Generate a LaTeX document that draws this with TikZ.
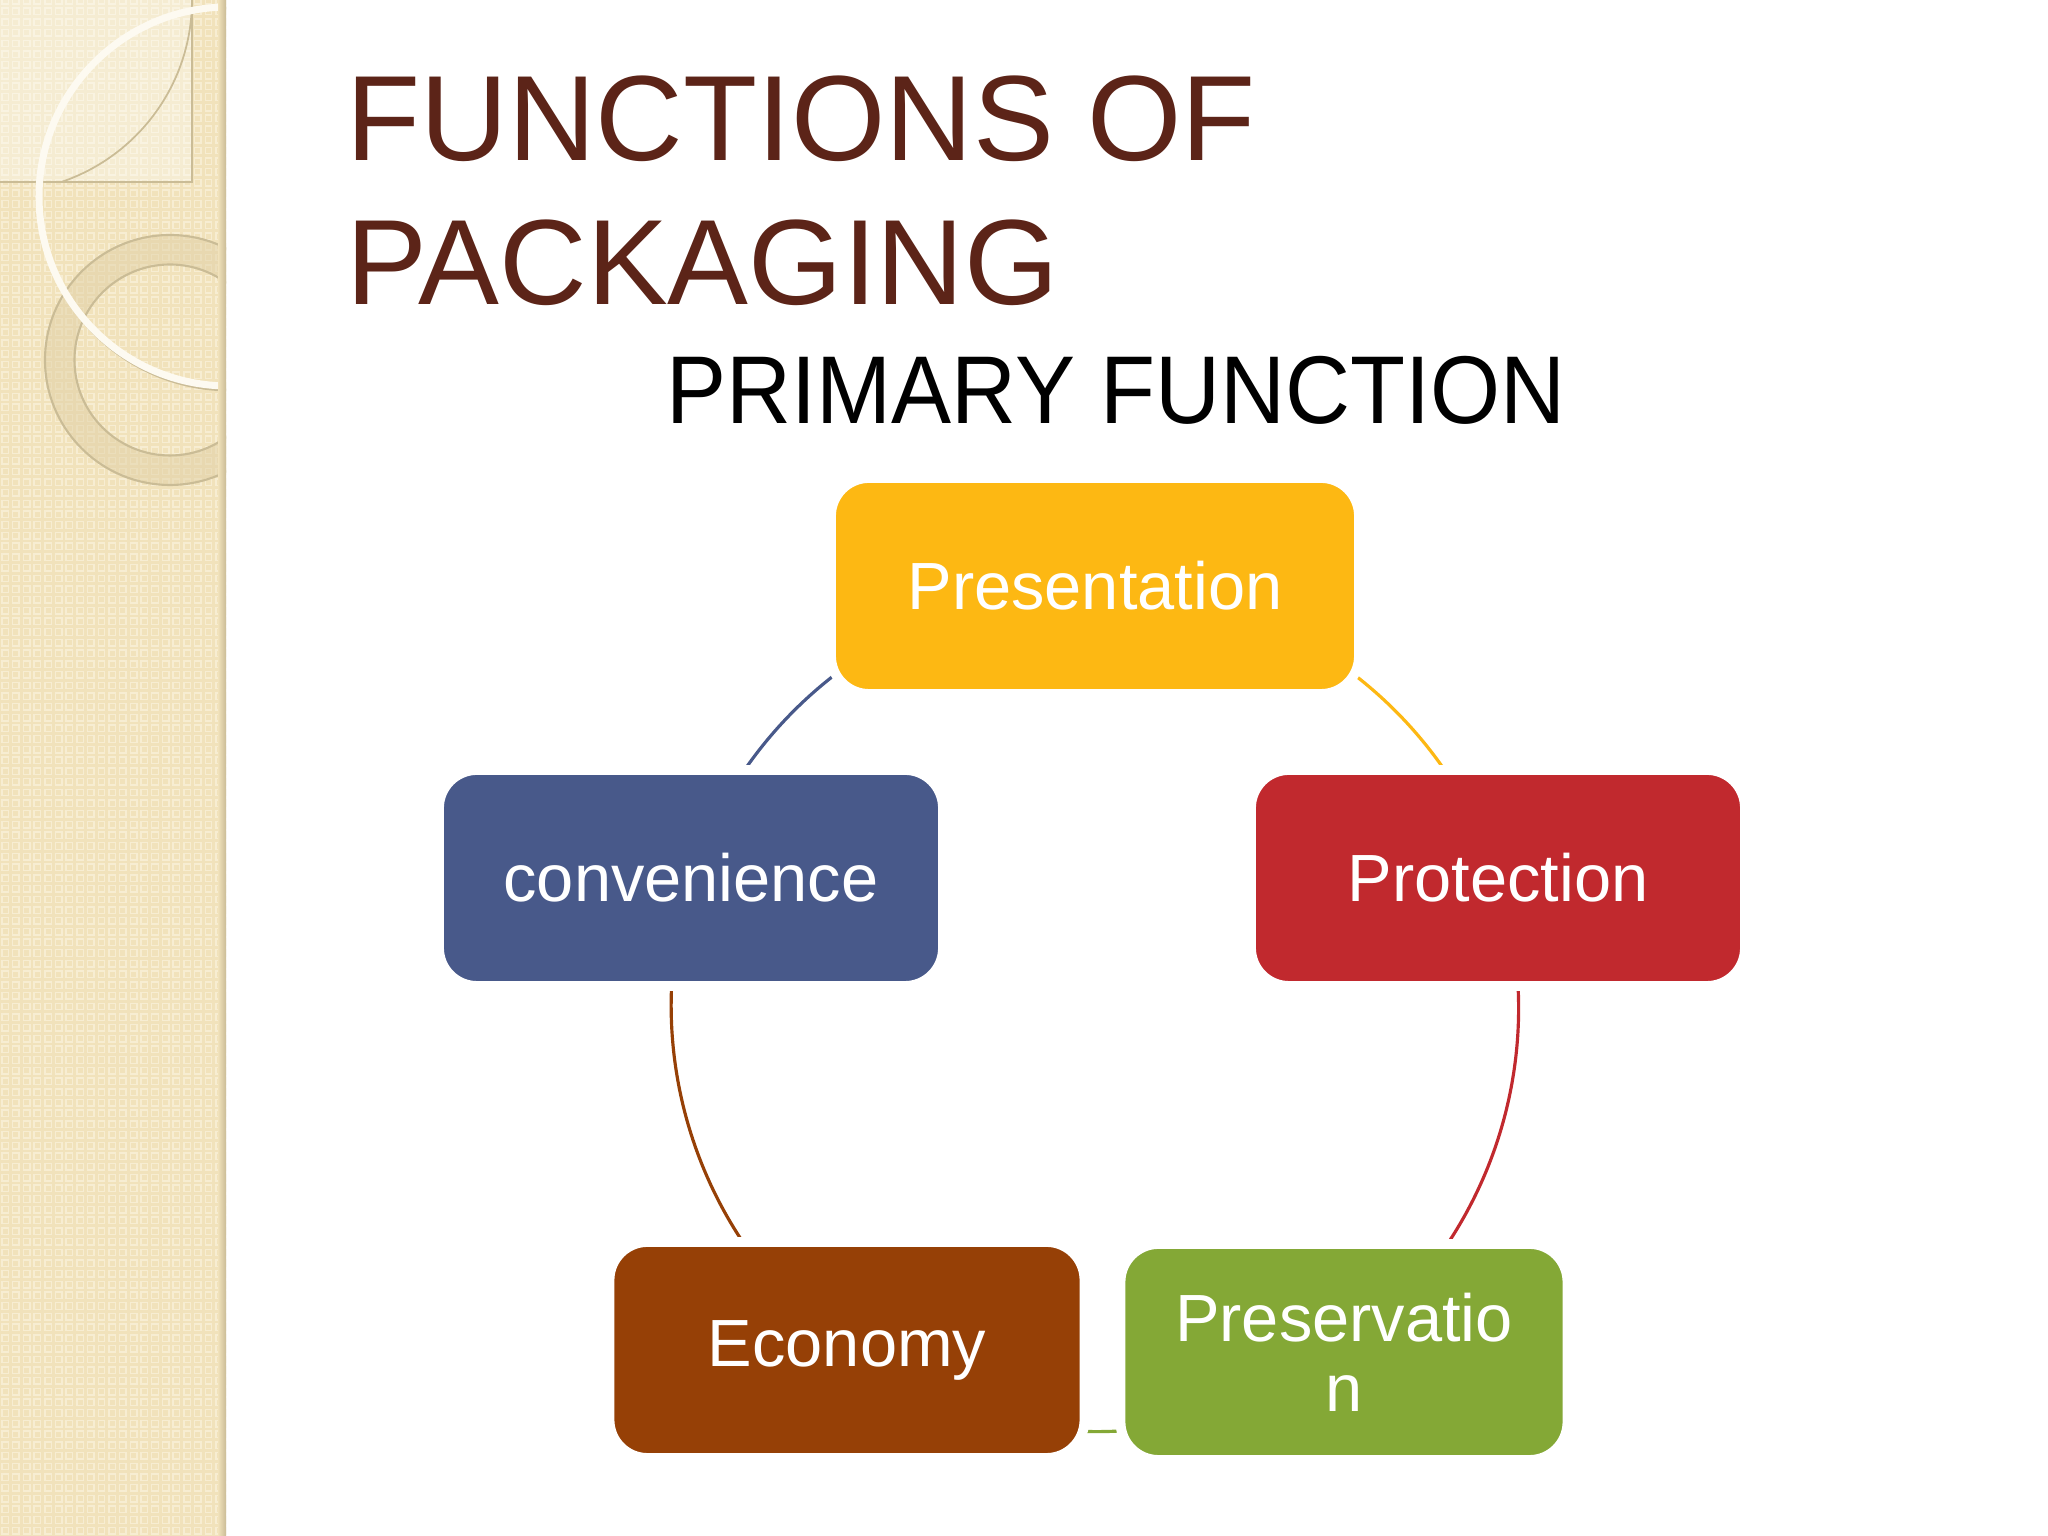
\documentclass[tikz,border=0pt]{standalone}
\usepackage{graphicx}
\usepackage{fontspec}
\setmainfont{Liberation Sans}
\usetikzlibrary{shapes}

\pgfdeclarelayer{bg}
\pgfdeclarelayer{links}
\pgfsetlayers{bg,links,main}

\definecolor{stripbase}{RGB}{241,226,187}
\definecolor{stripdot}{RGB}{247,237,210}
\definecolor{ringtone}{RGB}{224,208,166}
\definecolor{ringedge}{RGB}{202,188,150}
\definecolor{titlebrown}{RGB}{92,36,24}
\definecolor{presgold}{RGB}{253,184,19}
\definecolor{convblue}{RGB}{72,89,138}
\definecolor{protred}{RGB}{193,41,46}
\definecolor{ecobrown}{RGB}{150,64,6}
\definecolor{presvgreen}{RGB}{132,168,54}

\begin{document}
\begin{tikzpicture}
    \tikzstyle{box} = [rectangle, rounded corners=0.38cm, draw=white, line width=2.8pt, inner sep=0pt, minimum height=2.16cm, text=white, font=\fontsize{19}{20}\selectfont, align=center]
    \tikzstyle{link} = [line width=0.9pt, bend left=36, looseness=0.94]

    \useasboundingbox (0,0) rectangle (20.48,15.36);

    \begin{pgfonlayer}{bg}
      \fill [white] (0,0) rectangle (20.48,15.36);
      \begin{scope}
        \clip (0,0) rectangle (2.26,15.36);
        \fill [stripbase] (0,0) rectangle (2.26,15.36);
        \foreach \i in {0,...,21}
          \foreach \j in {0,...,143}
            \draw [stripdot, line width=0.4pt] (\i*0.107+0.02, \j*0.107+0.02) rectangle ++(0.065,0.065);
        \fill [white, opacity=0.35] (0,13.54) rectangle (1.92,15.36);
        \draw [ringedge, line width=0.5pt] (0,13.54) -| (1.92,15.36);
        \begin{scope}
          \clip (0,13.54) rectangle (1.92,15.36);
          \draw [ringedge, line width=0.5pt] (0,15.36) circle (1.92);
        \end{scope}
        \fill [ringtone, opacity=0.5, even odd rule] (1.70,11.76) circle (1.25) (1.70,11.76) circle (0.955);
        \draw [ringedge, line width=0.6pt] (1.70,11.76) circle (1.25);
        \draw [ringedge, line width=0.6pt] (1.70,11.76) circle (0.955);
        \draw [ringedge, line width=0.8pt] (2.30,13.37) circle (1.91);
        \draw [white!70!stripdot, line width=2pt] (2.285,13.395) circle (1.895);
        \shade [left color=stripbase, right color=ringedge] (2.18,0) rectangle (2.26,15.36);
      \end{scope}
    \end{pgfonlayer}

    \node (title) [anchor=north west, inner sep=0pt, align=left, text=titlebrown, font=\fontsize{34.5}{41}\selectfont] at (3.46,14.61) {FUNCTIONS OF\\PACKAGING};
    \node (primary) [anchor=base west, inner sep=0pt, font=\fontsize{27.4}{30}\selectfont] at (6.66,11.12) {\scalebox{0.935}[1]{PRIMARY FUNCTION}};

    \node (pres) [box, fill=presgold, minimum width=5.28cm] at (10.95,9.50) {Presentation};
    \node (prot) [box, fill=protred, minimum width=4.94cm] at (14.98,6.58) {Protection};
    \node (presv) [box, fill=presvgreen, minimum width=4.47cm] at (13.44,1.84) {Preservatio\\n};
    \node (eco) [box, fill=ecobrown, minimum width=4.75cm] at (8.47,1.86) {Economy};
    \node (conv) [box, fill=convblue, minimum width=5.04cm] at (6.91,6.58) {convenience};

    \begin{pgfonlayer}{links}
      \draw [link, presgold] (pres.center) to (prot.center);
      \draw [link, protred] (prot.center) to (presv.center);
      \draw [link, presvgreen] (presv.center) to (eco.center);
      \draw [link, ecobrown] (eco.center) to (conv.center);
      \draw [link, convblue] (conv.center) to (pres.center);
    \end{pgfonlayer}
\end{tikzpicture}
\end{document}
